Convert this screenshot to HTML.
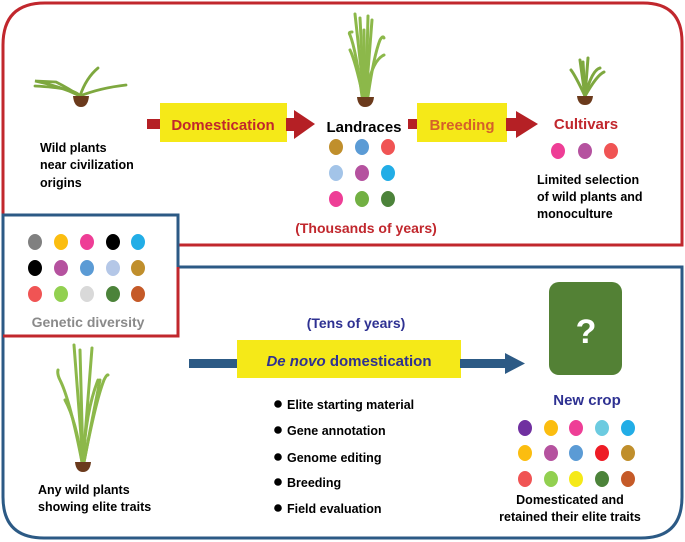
<!DOCTYPE html>
<html><head><meta charset="utf-8"><style>
html,body{margin:0;padding:0;background:#fff}
svg{display:block}
text{font-family:"Liberation Sans",Arial,sans-serif;font-weight:bold}
</style></head><body>
<svg width="685" height="542" viewBox="0 0 685 542" xmlns="http://www.w3.org/2000/svg">
<path d="M178,245 L682,245 L682,42 Q682,3 643,3 L45,3 Q3,3 3,45 L3,215" fill="none" stroke="#c1272d" stroke-width="3"/>
<path d="M3,215 L178,215 L178,267 L682,267 L682,497 Q682,538 641,538 L44,538 Q3,538 3,497 Z" fill="none" stroke="#2c5a85" stroke-width="3"/>
<path d="M3,336 L178,336 L178,267" fill="none" stroke="#c1272d" stroke-width="3"/>
<path d="M3,215 L178,215 L178,267" fill="none" stroke="#2c5a85" stroke-width="3"/>

<g stroke="#7ea83f" stroke-width="2.8" fill="none" stroke-linecap="round">
<path d="M80,96 Q60,86 35,81 L56,82 Q68,88 80,96"/>
<path d="M80,96 Q75,88 35,86"/>
<path d="M80,96 Q100,88 126,85"/>
<path d="M80,96 Q86,78 98,68"/>
</g>
<path d="M73,96 L89,96 Q88,107 81,107 Q74,107 73,96Z" fill="#6b3a1c"/>

<g stroke="#8cb84a" stroke-width="3" fill="none" stroke-linecap="round">
<path d="M364,96 L355,14"/><path d="M364,96 L360,18"/><path d="M366,96 L368,16"/><path d="M366,96 L372,20"/>
<path d="M362,96 Q356,50 350,35 Q348,32 352,32"/><path d="M368,96 Q374,55 380,40 Q383,35 384,38"/>
<path d="M365,96 Q372,60 384,55"/><path d="M363,96 Q355,60 350,50"/><path d="M365,96 L364,30"/>
</g>
<path d="M357,97 L374,97 Q373,107 365,107 Q358,107 357,97Z" fill="#6b3a1c"/>

<g stroke="#7ea83f" stroke-width="3" fill="none" stroke-linecap="round">
<path d="M585,96 L580,60"/><path d="M585,96 L588,58"/><path d="M585,96 Q575,75 571,70"/><path d="M585,96 Q597,75 604,72"/><path d="M585,96 Q592,70 600,68"/><path d="M585,96 L583,62"/>
</g>
<path d="M577,96 L593,96 Q592,105 585,105 Q578,105 577,96Z" fill="#6b3a1c"/>

<g stroke="#8cb84a" stroke-width="3" fill="none" stroke-linecap="round">
<path d="M83,462 L74,345"/><path d="M83,462 L92,348"/><path d="M83,462 L80,350"/>
<path d="M82,462 Q70,400 60,380 Q57,374 58,370"/><path d="M84,462 Q96,400 104,380 Q107,374 108,375"/>
<path d="M82,462 Q76,420 65,400"/><path d="M84,462 Q92,420 100,380"/><path d="M83,462 Q86,410 98,380"/>
</g>
<path d="M75,462 L91,462 Q90,472 83,472 Q76,472 75,462Z" fill="#6b3a1c"/>

<rect x="147" y="119" width="18" height="10" fill="#b52025"/>
<rect x="160" y="103" width="127" height="39" fill="#f5e918"/>
<text x="223" y="130" text-anchor="middle" font-size="15" fill="#c1272d">Domestication</text>
<rect x="286" y="118" width="10" height="13" fill="#b52025"/>
<polygon points="294,110 315,124 294,139" fill="#b52025"/>
<text x="364" y="132" text-anchor="middle" font-size="15" fill="#000">Landraces</text>

<rect x="408" y="119" width="12" height="10" fill="#b52025"/>
<rect x="417" y="103" width="90" height="39" fill="#f5e918"/>
<text x="462" y="130" text-anchor="middle" font-size="15" fill="#d5602a">Breeding</text>
<rect x="506" y="118" width="12" height="13" fill="#b52025"/>
<polygon points="516,111 538,124 516,138" fill="#b52025"/>
<text x="586" y="129" text-anchor="middle" font-size="15" fill="#c1272d">Cultivars</text>

<g font-size="12.5" fill="#000">
<text x="40" y="152">Wild plants</text>
<text x="40" y="169">near civilization</text>
<text x="40" y="187">origins</text>
<text x="537" y="184">Limited selection</text>
<text x="537" y="201">of wild plants and</text>
<text x="537" y="218">monoculture</text>
</g>
<text x="366" y="233" text-anchor="middle" font-size="14" fill="#c1272d">(Thousands of years)</text>

<g>
<ellipse cx="336" cy="147" rx="7" ry="8" fill="#c08f2c"/><ellipse cx="362" cy="147" rx="7" ry="8" fill="#5b9bd5"/><ellipse cx="388" cy="147" rx="7" ry="8" fill="#f05454"/>
<ellipse cx="336" cy="173" rx="7" ry="8" fill="#a3c4e8"/><ellipse cx="362" cy="173" rx="7" ry="8" fill="#b5529f"/><ellipse cx="388" cy="173" rx="7" ry="8" fill="#22ade6"/>
<ellipse cx="336" cy="199" rx="7" ry="8" fill="#ee3e96"/><ellipse cx="362" cy="199" rx="7" ry="8" fill="#72b043"/><ellipse cx="388" cy="199" rx="7" ry="8" fill="#4c833a"/>
<ellipse cx="558" cy="151" rx="7" ry="8" fill="#ee3e96"/><ellipse cx="585" cy="151" rx="7" ry="8" fill="#b5529f"/><ellipse cx="611" cy="151" rx="7" ry="8" fill="#f05454"/>
</g>
<g>
<ellipse cx="35" cy="242" rx="7" ry="8" fill="#808080"/><ellipse cx="61" cy="242" rx="7" ry="8" fill="#fbbd10"/><ellipse cx="87" cy="242" rx="7" ry="8" fill="#ee3e96"/><ellipse cx="113" cy="242" rx="7" ry="8" fill="#000"/><ellipse cx="138" cy="242" rx="7" ry="8" fill="#22ade6"/>
<ellipse cx="35" cy="268" rx="7" ry="8" fill="#000"/><ellipse cx="61" cy="268" rx="7" ry="8" fill="#b5529f"/><ellipse cx="87" cy="268" rx="7" ry="8" fill="#5b9bd5"/><ellipse cx="113" cy="268" rx="7" ry="8" fill="#b4c7e7"/><ellipse cx="138" cy="268" rx="7" ry="8" fill="#c08f2c"/>
<ellipse cx="35" cy="294" rx="7" ry="8" fill="#f05454"/><ellipse cx="61" cy="294" rx="7" ry="8" fill="#92d050"/><ellipse cx="87" cy="294" rx="7" ry="8" fill="#d9d9d9"/><ellipse cx="113" cy="294" rx="7" ry="8" fill="#4c833a"/><ellipse cx="138" cy="294" rx="7" ry="8" fill="#c55a28"/>
</g>
<text x="88" y="327" text-anchor="middle" font-size="14" fill="#8a8a8a">Genetic diversity</text>

<text x="356" y="328" text-anchor="middle" font-size="14" fill="#2e3192">(Tens of years)</text>
<rect x="189" y="359" width="50" height="9" fill="#2c5a85"/>
<rect x="237" y="340" width="224" height="38" fill="#f5e918"/>
<text x="349" y="366" text-anchor="middle" font-size="15" fill="#2e3192"><tspan font-style="italic">De novo</tspan> domestication</text>
<rect x="460" y="359" width="48" height="9" fill="#2c5a85"/>
<polygon points="505,353 525,363.5 505,374" fill="#2c5a85"/>

<rect x="549" y="282" width="73" height="93" rx="10" fill="#538135"/>
<text x="586" y="343" text-anchor="middle" font-size="34" fill="#fff">?</text>
<text x="587" y="405" text-anchor="middle" font-size="15" fill="#2e3192">New crop</text>

<g>
<ellipse cx="525" cy="428" rx="7" ry="8" fill="#7030a0"/><ellipse cx="551" cy="428" rx="7" ry="8" fill="#fbbd10"/><ellipse cx="576" cy="428" rx="7" ry="8" fill="#ee3e96"/><ellipse cx="602" cy="428" rx="7" ry="8" fill="#6ccbe0"/><ellipse cx="628" cy="428" rx="7" ry="8" fill="#22ade6"/>
<ellipse cx="525" cy="453" rx="7" ry="8" fill="#fbbd10"/><ellipse cx="551" cy="453" rx="7" ry="8" fill="#b5529f"/><ellipse cx="576" cy="453" rx="7" ry="8" fill="#5b9bd5"/><ellipse cx="602" cy="453" rx="7" ry="8" fill="#ee1c25"/><ellipse cx="628" cy="453" rx="7" ry="8" fill="#c08f2c"/>
<ellipse cx="525" cy="479" rx="7" ry="8" fill="#f05454"/><ellipse cx="551" cy="479" rx="7" ry="8" fill="#92d050"/><ellipse cx="576" cy="479" rx="7" ry="8" fill="#f5e918"/><ellipse cx="602" cy="479" rx="7" ry="8" fill="#4c833a"/><ellipse cx="628" cy="479" rx="7" ry="8" fill="#c55a28"/>
</g>
<g font-size="12.5" fill="#000">
<text x="570" y="504" text-anchor="middle">Domesticated and</text>
<text x="570" y="521" text-anchor="middle">retained their elite traits</text>
<text x="38" y="494">Any wild plants</text>
<text x="38" y="511">showing elite traits</text>
<text x="287" y="409">Elite starting material</text>
<text x="287" y="435">Gene annotation</text>
<text x="287" y="462">Genome editing</text>
<text x="287" y="487">Breeding</text>
<text x="287" y="513">Field evaluation</text>
</g>
<g fill="#000">
<circle cx="278" cy="404" r="3.8"/><circle cx="278" cy="430" r="3.8"/><circle cx="278" cy="457" r="3.8"/><circle cx="278" cy="482" r="3.8"/><circle cx="278" cy="508" r="3.8"/>
</g>
</svg>
</body></html>
